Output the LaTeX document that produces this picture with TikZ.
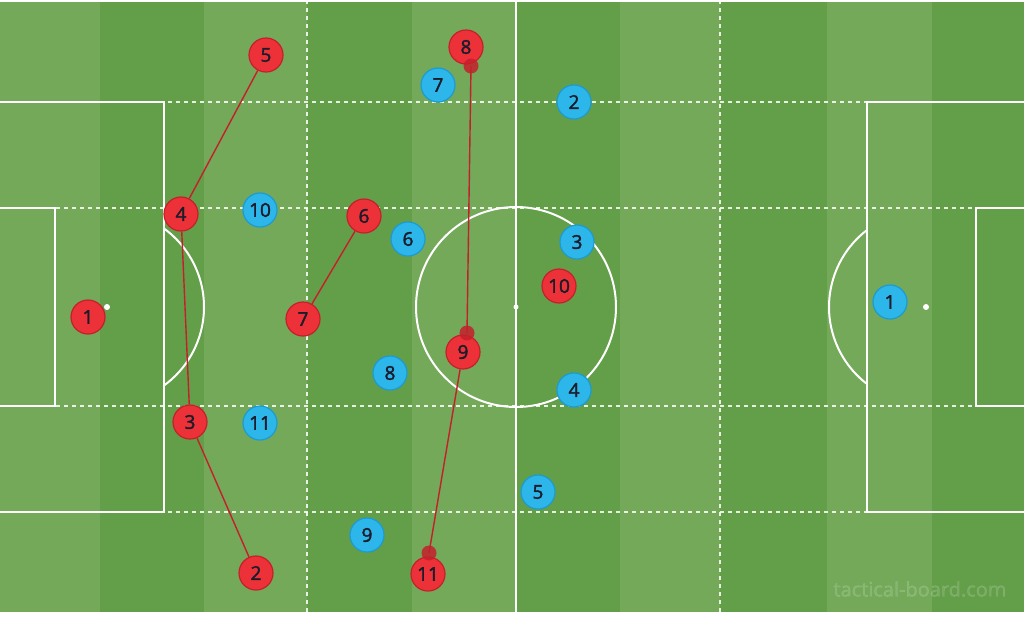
\documentclass[tikz,border=0pt]{standalone}
\usepackage{fontspec}
\setmainfont{Open Sans}
\newfontfamily\numfont[FakeBold=2]{Open Sans}
\definecolor{grasslight}{HTML}{73A958}
\definecolor{grassdark}{HTML}{639E49}
\definecolor{redfill}{HTML}{EC3238}
\definecolor{redline}{HTML}{C4202C}
\definecolor{bluefill}{HTML}{2DB6EA}
\definecolor{blueline}{HTML}{1C9BD2}
\definecolor{ink}{HTML}{1C1C2A}

\begin{document}
\begin{tikzpicture}[x=1pt,y=-1pt,
  redp/.style={circle,draw=redline,fill=redfill,line width=1.2pt,minimum size=34pt,inner sep=0pt,text=ink,font=\numfont\fontsize{19}{19}\selectfont},
  bluep/.style={redp,draw=blueline,fill=bluefill},
  chalk/.style={white,line width=2pt},
  grid/.style={white,line width=1.4pt,dash pattern=on 4pt off 4pt,opacity=0.85},
  run/.style={redline,line width=1.4pt},
  runend/.style={circle,fill=redline,fill opacity=0.85,minimum size=15pt,inner sep=0pt}]
\useasboundingbox (0,0) rectangle (1024,619);
\fill[white] (0,0) rectangle (1024,619);

% grass stripes
\foreach \a/\b in {0/100,204/307,412/516,620/720,827/932}
\fill[grasslight] (\a,0) rectangle (\b,614);
\foreach \a/\b in {100/204,307/412,516/620,720/827,932/1024}
\fill[grassdark] (\a,0) rectangle (\b,614);

% zones
\foreach \y in {102,208,406,512}
\draw[grid] (0,\y) -- (1024,\y);
\foreach \x in {307,720}
\draw[grid] (\x,0) -- (\x,613);

% pitch markings
\draw[chalk] (0,1) -- (1024,1);
\draw[chalk] (0,613) -- (1024,613);
\draw[chalk] (516,0) -- (516,613);
\draw[chalk] (516,307) circle[radius=100];
\fill[white] (516,307) circle[radius=2.5];
\draw[chalk] (0,102) -- (164,102) -- (164,512) -- (0,512);
\draw[chalk] (0,208) -- (55,208) -- (55,406) -- (0,406);
\draw[chalk] (1024,102) -- (867,102) -- (867,512) -- (1024,512);
\draw[chalk] (1024,208) -- (976,208) -- (976,406) -- (1024,406);
\draw[chalk] ([shift={(-54:97)}]107,307) arc[start angle=-54, end angle=54, radius=97];
\draw[chalk] ([shift={(128:97)}]926,307) arc[start angle=128, end angle=232, radius=97];
\fill[white] (107,307) circle[radius=3];
\fill[white] (926,307) circle[radius=3];

% red team
\node[redp] (red1) at (88,317) {1};
\node[redp] (red2) at (256,573) {2};
\node[redp] (red3) at (190,422) {3};
\node[redp] (red4) at (181,214) {4};
\node[redp] (red5) at (266,55) {5};
\node[redp] (red6) at (364,216) {6};
\node[redp] (red7) at (303,319) {7};
\node[redp] (red8) at (466,47) {8};
\node[redp] (red9) at (463,352) {9};
\node[redp] (red10) at (559,286) {10};
\node[redp] (red11) at (428,574) {11};

% blue team
\node[bluep] (blue1) at (890,302) {1};
\node[bluep] (blue2) at (574,102) {2};
\node[bluep] (blue3) at (577,242) {3};
\node[bluep] (blue4) at (574,390) {4};
\node[bluep] (blue5) at (538,492) {5};
\node[bluep] (blue6) at (408,239) {6};
\node[bluep] (blue7) at (438,85) {7};
\node[bluep] (blue8) at (390,373) {8};
\node[bluep] (blue9) at (367,535) {9};
\node[bluep] (blue10) at (260,210) {10};
\node[bluep] (blue11) at (260,423) {11};

% runs
\draw[run] (red5) -- (red4) -- (red3) -- (red2);
\draw[run] (red6) -- (red7);
\coordinate (dot8) at (471,66);
\coordinate (dot9) at (467,333);
\coordinate (dot11) at (429,553);
\draw[run] (dot8) -- (dot9);
\draw[run] (red9) -- (dot11);
\foreach \d in {dot8,dot9,dot11}
\node[runend] at (\d) {};

\node[text=white,text opacity=0.14,font=\numfont\fontsize{20}{20}\selectfont] (credit) at (920,589) {tactical-board.com};
\end{tikzpicture}
\end{document}
